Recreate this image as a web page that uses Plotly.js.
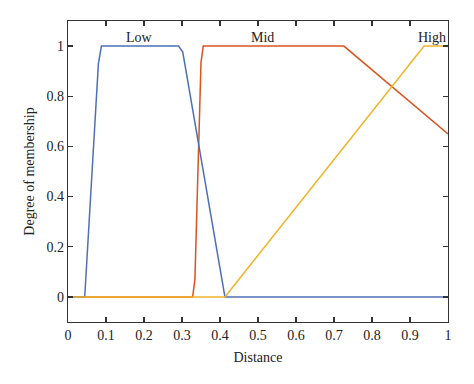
<!DOCTYPE html>
<html><head><meta charset="utf-8">
<script src="https://cdn.plot.ly/plotly-3.0.1.min.js"></script>
<style>html,body{margin:0;padding:0;background:#fff}</style>
</head><body><div id="chart" style="width:474px;height:384px"></div>
<script>
var lowX = [0, 0.044, 0.08, 0.088, 0.291, 0.302, 0.413, 1];
var lowY = [0, 0, 0.93, 1, 1, 0.976, 0, 0];
var midX = [0, 0.328, 0.334, 0.344, 0.35, 0.356, 0.726, 1];
var midY = [0, 0, 0.07, 0.63, 0.935, 1, 1, 0.65];
var highX = [0, 0.413, 0.937, 1];
var highY = [0, 0, 1, 1];
var labels = ["Low", "Mid", "High"];
var labelX = [0.187, 0.512, 0.958];
var labelY = [1.036, 1.036, 1.036];
var xTicks = [0, 0.1, 0.2, 0.3, 0.4, 0.5, 0.6, 0.7, 0.8, 0.9, 1];
var xTickText = ["0", "0.1", "0.2", "0.3", "0.4", "0.5", "0.6", "0.7", "0.8", "0.9", "1"];
var yTicks = [0, 0.2, 0.4, 0.6, 0.8, 1];
var yTickText = ["0", "0.2", "0.4", "0.6", "0.8", "1"];

var font = "Liberation Serif, DejaVu Serif, serif";
var traces = [
  {x: midX, y: midY, mode: "lines", line: {color: "#d9541e", width: 1.5}},
  {x: lowX, y: lowY, mode: "lines", line: {color: "#4f70b4", width: 1.5}},
  {x: highX, y: highY, mode: "lines", line: {color: "#f0b428", width: 1.5}}
];
var ann = labels.map(function(t, i){
  return {x: labelX[i], y: labelY[i], xref: "x", yref: "y", text: t, showarrow: false,
          font: {family: font, size: 14, color: "#222"}};
});
var axisCommon = {showgrid: false, zeroline: false, showline: true, linecolor: "#333", linewidth: 1.2,
  mirror: "ticks", ticks: "inside", ticklen: 5, tickcolor: "#333", tickwidth: 1.2,
  tickfont: {family: font, size: 14, color: "#222"}};
var layout = {
  width: 474, height: 384, margin: {l: 68, r: 26, t: 21, b: 62},
  paper_bgcolor: "#fff", plot_bgcolor: "#fff", showlegend: false,
  xaxis: Object.assign({}, axisCommon, {range: [0, 1], tickvals: xTicks, ticktext: xTickText,
    title: {text: "Distance", font: {family: font, size: 14, color: "#222"}, standoff: 10}}),
  yaxis: Object.assign({}, axisCommon, {range: [-0.1, 1.1], tickvals: yTicks, ticktext: yTickText,
    title: {text: "Degree of membership", font: {family: font, size: 14, color: "#222"}, standoff: 8}}),
  annotations: ann
};
Plotly.newPlot("chart", traces, layout, {displayModeBar: false, staticPlot: true});
</script></body></html>
